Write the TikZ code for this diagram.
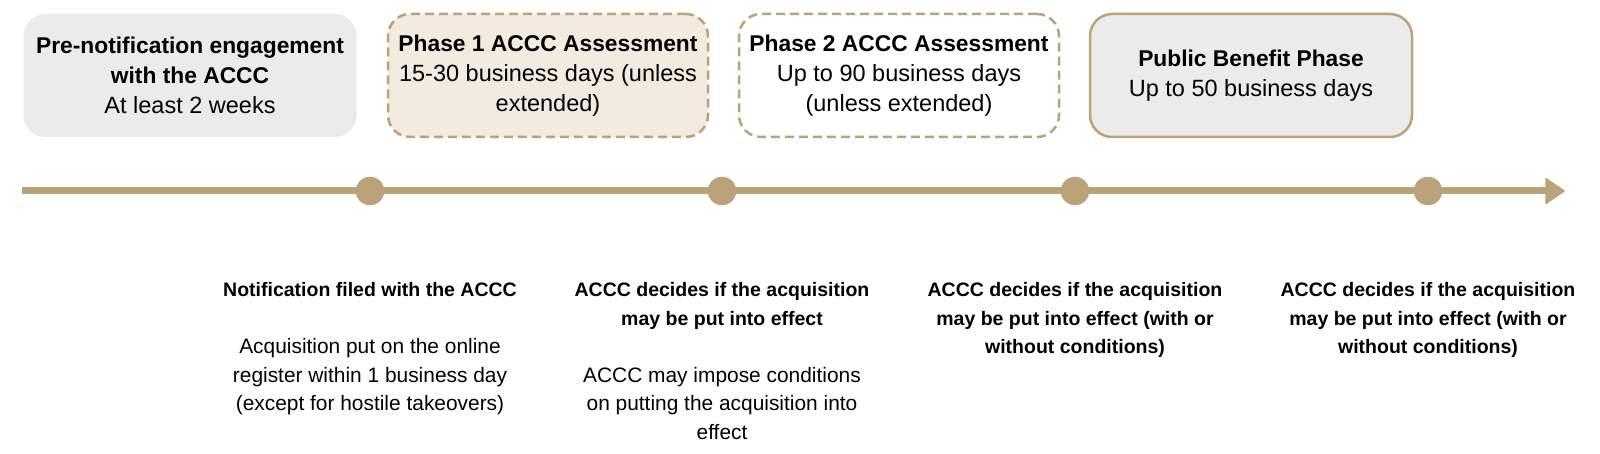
\documentclass[tikz,border=0pt]{standalone}
\usepackage{fontspec}
\setmainfont{Liberation Sans}
\usetikzlibrary{arrows.meta,calc,positioning}
\definecolor{tan}{RGB}{187,163,121}
\definecolor{beige}{RGB}{244,235,224}
\definecolor{lightgrey}{RGB}{235,235,235}
\newcommand{\phasetitle}[1]{{\fontsize{22.8}{30}\selectfont\bfseries #1}}
\newcommand{\eventtitle}[1]{{\fontsize{19.5}{28.5}\selectfont\bfseries #1}}

\begin{document}
\begin{tikzpicture}[x=1pt,y=-1pt,
		phase/.style={rounded corners=22pt, minimum height=123pt, align=center, inner sep=0pt, font=\fontsize{23.5}{30}\selectfont},
		dashedphase/.style={phase, draw=tan, line width=2.5pt, dash pattern=on 9pt off 5pt},
		milestone/.style={circle, fill=tan, minimum size=28.5pt, inner sep=0pt},
		event/.style={anchor=north, align=center, inner sep=0pt, font=\fontsize{20.9}{28.5}\selectfont}]
		\useasboundingbox (0,0) rectangle (1600,454);
		\begin{scope}
			\node[phase, fill=lightgrey, minimum width=333pt] (pre) at (190,75.5) {\phasetitle{Pre-notification engagement}\\\phasetitle{with the ACCC}\\At least 2 weeks};
			\node[dashedphase, fill=beige, minimum width=320pt] (phaseone) at (548,75.5) {\phasetitle{Phase 1 ACCC Assessment}\\15-30 business days (unless\\extended)};
			\node[dashedphase, fill=white, minimum width=320pt] (phasetwo) at (899,75.5) {\phasetitle{Phase 2 ACCC Assessment}\\Up to 90 business days\\(unless extended)};
			\node[phase, draw=tan, line width=2.5pt, fill=lightgrey, minimum width=322pt] (benefit) at (1251,75.5) {\phasetitle{Public Benefit Phase}\\Up to 50 business days};
		\end{scope}
		\begin{scope}
			\coordinate (tlstart) at (22,191);
			\coordinate (tlend) at (1565,191);
			\draw[tan, line width=7pt, -{Triangle[length=20pt,width=27pt,round,line width=1pt]}] (tlstart) -- (tlend);
			\node[milestone] (notified) at (370,191) {};
			\node[milestone] (decisionone) at (722,191) {};
			\node[milestone] (decisiontwo) at (1075,191) {};
			\node[milestone] (decisionthree) at (1428,191) {};
		\end{scope}
		\begin{scope}
			\node[event] (notifiedtext) at ($(notified.south)+(0,77)$) {\eventtitle{Notification filed with the ACCC}\\[28.5pt]Acquisition put on the online\\register within 1 business day\\(except for hostile takeovers)};
			\node[event] (decisiononetext) at ($(decisionone.south)+(0,77)$) {\eventtitle{ACCC decides if the acquisition}\\\eventtitle{may be put into effect}\\[28.5pt]ACCC may impose conditions\\on putting the acquisition into\\effect};
			\node[event] (decisiontwotext) at ($(decisiontwo.south)+(0,77)$) {\eventtitle{ACCC decides if the acquisition}\\\eventtitle{may be put into effect (with or}\\\eventtitle{without conditions)}};
			\node[event] (decisionthreetext) at ($(decisionthree.south)+(0,77)$) {\eventtitle{ACCC decides if the acquisition}\\\eventtitle{may be put into effect (with or}\\\eventtitle{without conditions)}};
		\end{scope}
	\end{tikzpicture}
\end{document}
